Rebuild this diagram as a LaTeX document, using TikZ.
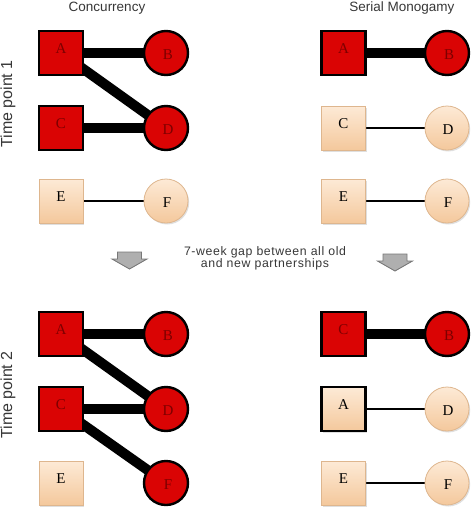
\documentclass[tikz,border=0pt]{standalone}
\usepackage{fontspec}
\setmainfont{Liberation Serif}
\newfontfamily\labfont{Liberation Sans}
\newfontfamily\midfont[LetterSpace=5]{Liberation Sans}
\usetikzlibrary{shadows,backgrounds}
\definecolor{redf}{RGB}{218,4,4}
\definecolor{redt}{RGB}{125,0,0}
\definecolor{peachT}{RGB}{253,234,214}
\definecolor{peachB}{RGB}{244,200,156}
\definecolor{peachD}{RGB}{222,182,142}
\definecolor{titleg}{RGB}{55,55,55}
\definecolor{arrowf}{RGB}{175,175,175}
\definecolor{arrowd}{RGB}{120,120,120}
\tikzset{
  base/.style={inner sep=0pt, minimum size=44pt},
  rsq/.style={base, rectangle, fill=redf, draw=black, line width=2.4pt,
    label={[text=redt, font=\fontsize{15}{15}\selectfont, yshift=4pt]center:#1}},
  rci/.style={base, circle, fill=redf, draw=black, line width=2.4pt,
    label={[text=redt, font=\fontsize{15}{15}\selectfont, xshift=2pt, yshift=-2pt]center:#1}},
  psq/.style={base, rectangle, top color=peachT, bottom color=peachB, draw=peachD, line width=0.8pt,
    drop shadow={shadow xshift=1.2pt, shadow yshift=-1.5pt, opacity=0.25},
    label={[text=black, font=\fontsize{15}{15}\selectfont, yshift=4pt]center:#1}},
  pci/.style={base, circle, top color=peachT, bottom color=peachB, draw=peachD, line width=0.8pt,
    drop shadow={shadow xshift=1.2pt, shadow yshift=-1.5pt, opacity=0.25},
    label={[text=black, font=\fontsize{15}{15}\selectfont, xshift=1pt, yshift=-2pt]center:#1}},
  psqk/.style={psq=#1, draw=black, line width=2.6pt},
  thicklink/.style={line width=10pt, black},
  thinlink/.style={line width=2.6pt, black},
  title/.style={font=\labfont\fontsize{13.5}{14}\selectfont, text=titleg},
  sidelab/.style={font=\labfont\fontsize{16}{16}\selectfont, text=titleg, rotate=90},
  midlab/.style={font=\midfont\fontsize{12.3}{12}\selectfont, text=titleg, align=center},
  blockarrow/.style={fill=arrowf, draw=arrowd, line width=0.9pt, line join=miter}
}
\begin{document}
\begin{tikzpicture}[x=1pt, y=-1pt]
\path[use as bounding box] (0,0) rectangle (474,512);
% titles
\node[title] (tconc) at (107,8) {Concurrency};
\node[title] (tser) at (402,8) {Serial Monogamy};
\node[sidelab] (tp1) at (8,104) {Time point 1};
\node[sidelab] (tp2) at (8,395) {Time point 2};
\node[midlab] (gap) at (265,258) {7-week gap between all old\\and new partnerships};
% Time point 1, concurrency
\node[rsq=A] (c1a) at (61,53) {};
\node[rci=B] (c1b) at (166,53) {};
\node[rsq=C] (c1c) at (61,128) {};
\node[rci=D] (c1d) at (166,128) {};
\node[psq=E] (c1e) at (61,201) {};
\node[pci=F] (c1f) at (166,201) {};
% Time point 1, serial monogamy
\node[rsq=A] (s1a) at (343.5,53) {};
\node[rci=B] (s1b) at (447,53) {};
\node[psq=C] (s1c) at (343.5,128) {};
\node[pci=D] (s1d) at (447,128) {};
\node[psq=E] (s1e) at (343.5,201) {};
\node[pci=F] (s1f) at (447,201) {};
% Time point 2, concurrency
\node[rsq=A] (c2a) at (61,334) {};
\node[rci=B] (c2b) at (166,334) {};
\node[rsq=C] (c2c) at (61,409) {};
\node[rci=D] (c2d) at (166,409) {};
\node[psq=E] (c2e) at (61,483) {};
\node[rci=F] (c2f) at (166,483) {};
% Time point 2, serial monogamy
\node[rsq=C] (s2c) at (343.5,334) {};
\node[rci=B] (s2b) at (447,334) {};
\node[psqk=A] (s2a) at (343.5,409) {};
\node[pci=D] (s2d) at (447,409) {};
\node[psq=E] (s2e) at (343.5,483) {};
\node[pci=F] (s2f) at (447,483) {};
% links
\begin{scope}[on background layer]
\draw[thicklink] (c1a.center) -- (c1b.center);
\draw[thicklink] (c1a.center) -- (c1d.center);
\draw[thicklink] (c1c.center) -- (c1d.center);
\draw[thinlink] (c1e.center) -- (c1f.center);
\draw[thicklink] (s1a.center) -- (s1b.center);
\draw[thinlink] (s1c.center) -- (s1d.center);
\draw[thinlink] (s1e.center) -- (s1f.center);
\draw[thicklink] (c2a.center) -- (c2b.center);
\draw[thicklink] (c2a.center) -- (c2d.center);
\draw[thicklink] (c2c.center) -- (c2d.center);
\draw[thicklink] (c2c.center) -- (c2f.center);
\draw[thicklink] (s2c.center) -- (s2b.center);
\draw[thinlink] (s2a.center) -- (s2d.center);
\draw[thinlink] (s2e.center) -- (s2f.center);
\end{scope}
% block arrows
\draw[blockarrow] (117.5,252) -- (141.5,252) -- (141.5,259) -- (147,259) -- (129.5,269) -- (112,259) -- (117.5,259) -- cycle;
\draw[blockarrow] (383,254) -- (407,254) -- (407,261) -- (412.5,261) -- (395,271) -- (377.5,261) -- (383,261) -- cycle;
\end{tikzpicture}
\end{document}
